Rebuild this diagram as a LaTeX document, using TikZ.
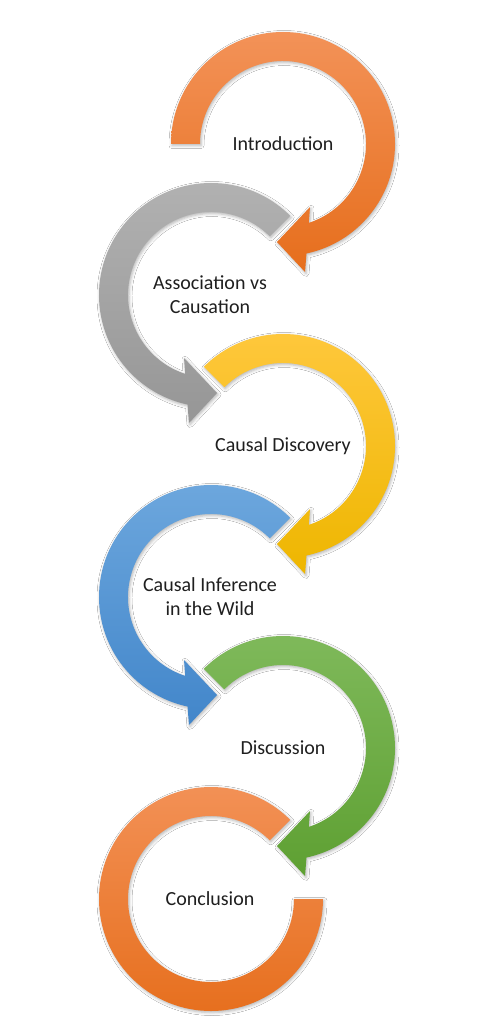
\documentclass[tikz,border=0pt]{standalone}
\usepackage{fontspec}
\setmainfont{Carlito}
\usetikzlibrary{shadows.blur}
\definecolor{oTop}{RGB}{243,146,88}
\definecolor{oBot}{RGB}{230,110,28}
\definecolor{gTop}{RGB}{178,178,178}
\definecolor{gBot}{RGB}{150,150,150}
\definecolor{yTop}{RGB}{255,200,62}
\definecolor{yBot}{RGB}{238,182,0}
\definecolor{bTop}{RGB}{110,168,222}
\definecolor{bBot}{RGB}{66,134,202}
\definecolor{grTop}{RGB}{128,186,92}
\definecolor{grBot}{RGB}{94,160,50}
\tikzset{
  ringshadow/.style={blur shadow={shadow xshift=1pt, shadow yshift=-1.5pt, shadow blur radius=3pt, shadow opacity=30}},
  orangefill/.style={top color=oTop, bottom color=oBot},
  grayfill/.style={top color=gTop, bottom color=gBot},
  yellowfill/.style={top color=yTop, bottom color=yBot},
  bluefill/.style={top color=bTop, bottom color=bBot},
  greenfill/.style={top color=grTop, bottom color=grBot},
  steplabel/.style={font=\fontsize{20}{24}\selectfont, text=black!88, align=center, inner sep=0pt},
}
% #1 cx, #2 cy, #3 xscale, #4 start angle, #5 fill style
\newcommand\circarrow[5]{%
  \begin{scope}[shift={(#1,#2)}, xscale=#3]
    \path[#5, ringshadow] (#4:112) arc[start angle=#4, end angle=437.9, radius=112]
      -- (22,128) -- (-6,98) -- (27,63) -- (431.9:83)
      arc[start angle=431.9, end angle=#4, radius=83] -- cycle;
  \end{scope}}
\begin{document}
\begin{tikzpicture}[x=1pt, y=-1pt]
  \useasboundingbox[fill=white] (0,0) rectangle (493,1024);
  \circarrow{283}{144}{1}{180}{orangefill}
  \circarrow{211}{295}{-1}{225}{grayfill}
  \circarrow{283}{446}{1}{225}{yellowfill}
  \circarrow{211}{597}{-1}{225}{bluefill}
  \circarrow{283}{748}{1}{225}{greenfill}
  \begin{scope}[shift={(211,899)}]
    \path[orangefill, ringshadow] (315:112) arc[start angle=315, end angle=0, radius=112]
      -- (0:83) arc[start angle=0, end angle=315, radius=83] -- cycle;
  \end{scope}
  \node[steplabel] (intro) at (283,144) {Introduction};
  \node[steplabel] (assoc) at (210,295) {Association vs\\Causation};
  \node[steplabel] (disc) at (283,446) {Causal Discovery};
  \node[steplabel] (wild) at (210,597) {Causal Inference\\in the Wild};
  \node[steplabel] (discuss) at (283,748) {Discussion};
  \node[steplabel] (concl) at (210,899) {Conclusion};
\end{tikzpicture}
\end{document}
